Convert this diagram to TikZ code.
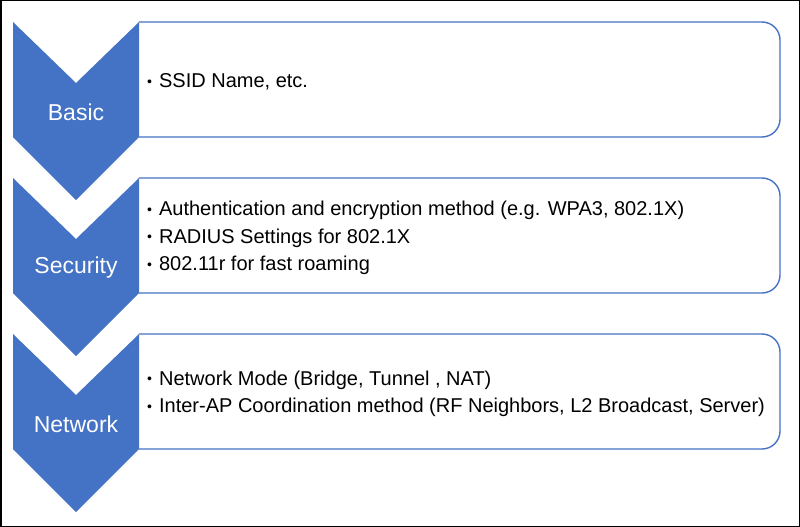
\documentclass[tikz,border=0pt]{standalone}
\usepackage{fontspec}
\setmainfont{Liberation Sans}
\definecolor{accent}{HTML}{4472C4}
\newcommand{\mybul}{\raisebox{1.6pt}{\fontsize{14}{14}\selectfont\textbullet}\hspace{7pt}}
\begin{document}
\begin{tikzpicture}[x=1pt,y=-1pt,
  chev/.style={fill=accent,draw=none},
  infobox/.style={draw=accent,line width=1.4pt,fill=white},
  lbl/.style={text=white,font=\fontsize{23}{27}\selectfont,anchor=center},
  items/.style={anchor=west,align=left,font=\fontsize{20}{27.5}\selectfont,inner sep=0pt}]
\useasboundingbox (0,0) rectangle (800,527);
\draw[line width=1.5pt] (0.75,0.75) rectangle (799.25,526.25);
\foreach \t/\name in {22/basic,178/security,334/network}{
  \draw[infobox] (139,\t) [rounded corners=18pt] -- (780,\t) -- (780,\t+115) [sharp corners] -- (139,\t+115);
  \fill[chev] (13,\t) -- (76,\t+61) -- (139,\t) -- (139,\t+115) -- (76,\t+178) -- (13,\t+115) -- cycle;
}
\node[lbl] (lbasic) at (76,112) {Basic};
\node[lbl] (lsecurity) at (76,268) {Security};
\node[lbl] (lnetwork) at (76,424) {Network};
\node[items] (tbasic) at (147,82) {\mybul SSID Name, etc.};
\node[items] (tsecurity) at (147,238) {\mybul Authentication and encryption method (e.g. WPA3, 802.1X)\\
\mybul RADIUS Settings for 802.1X\\
\mybul 802.11r for fast roaming};
\node[items] (tnetwork) at (147,394) {\mybul Network Mode (Bridge, Tunnel , NAT)\\
\mybul Inter-AP Coordination method (RF Neighbors, L2 Broadcast, Server)};
\end{tikzpicture}
\end{document}
